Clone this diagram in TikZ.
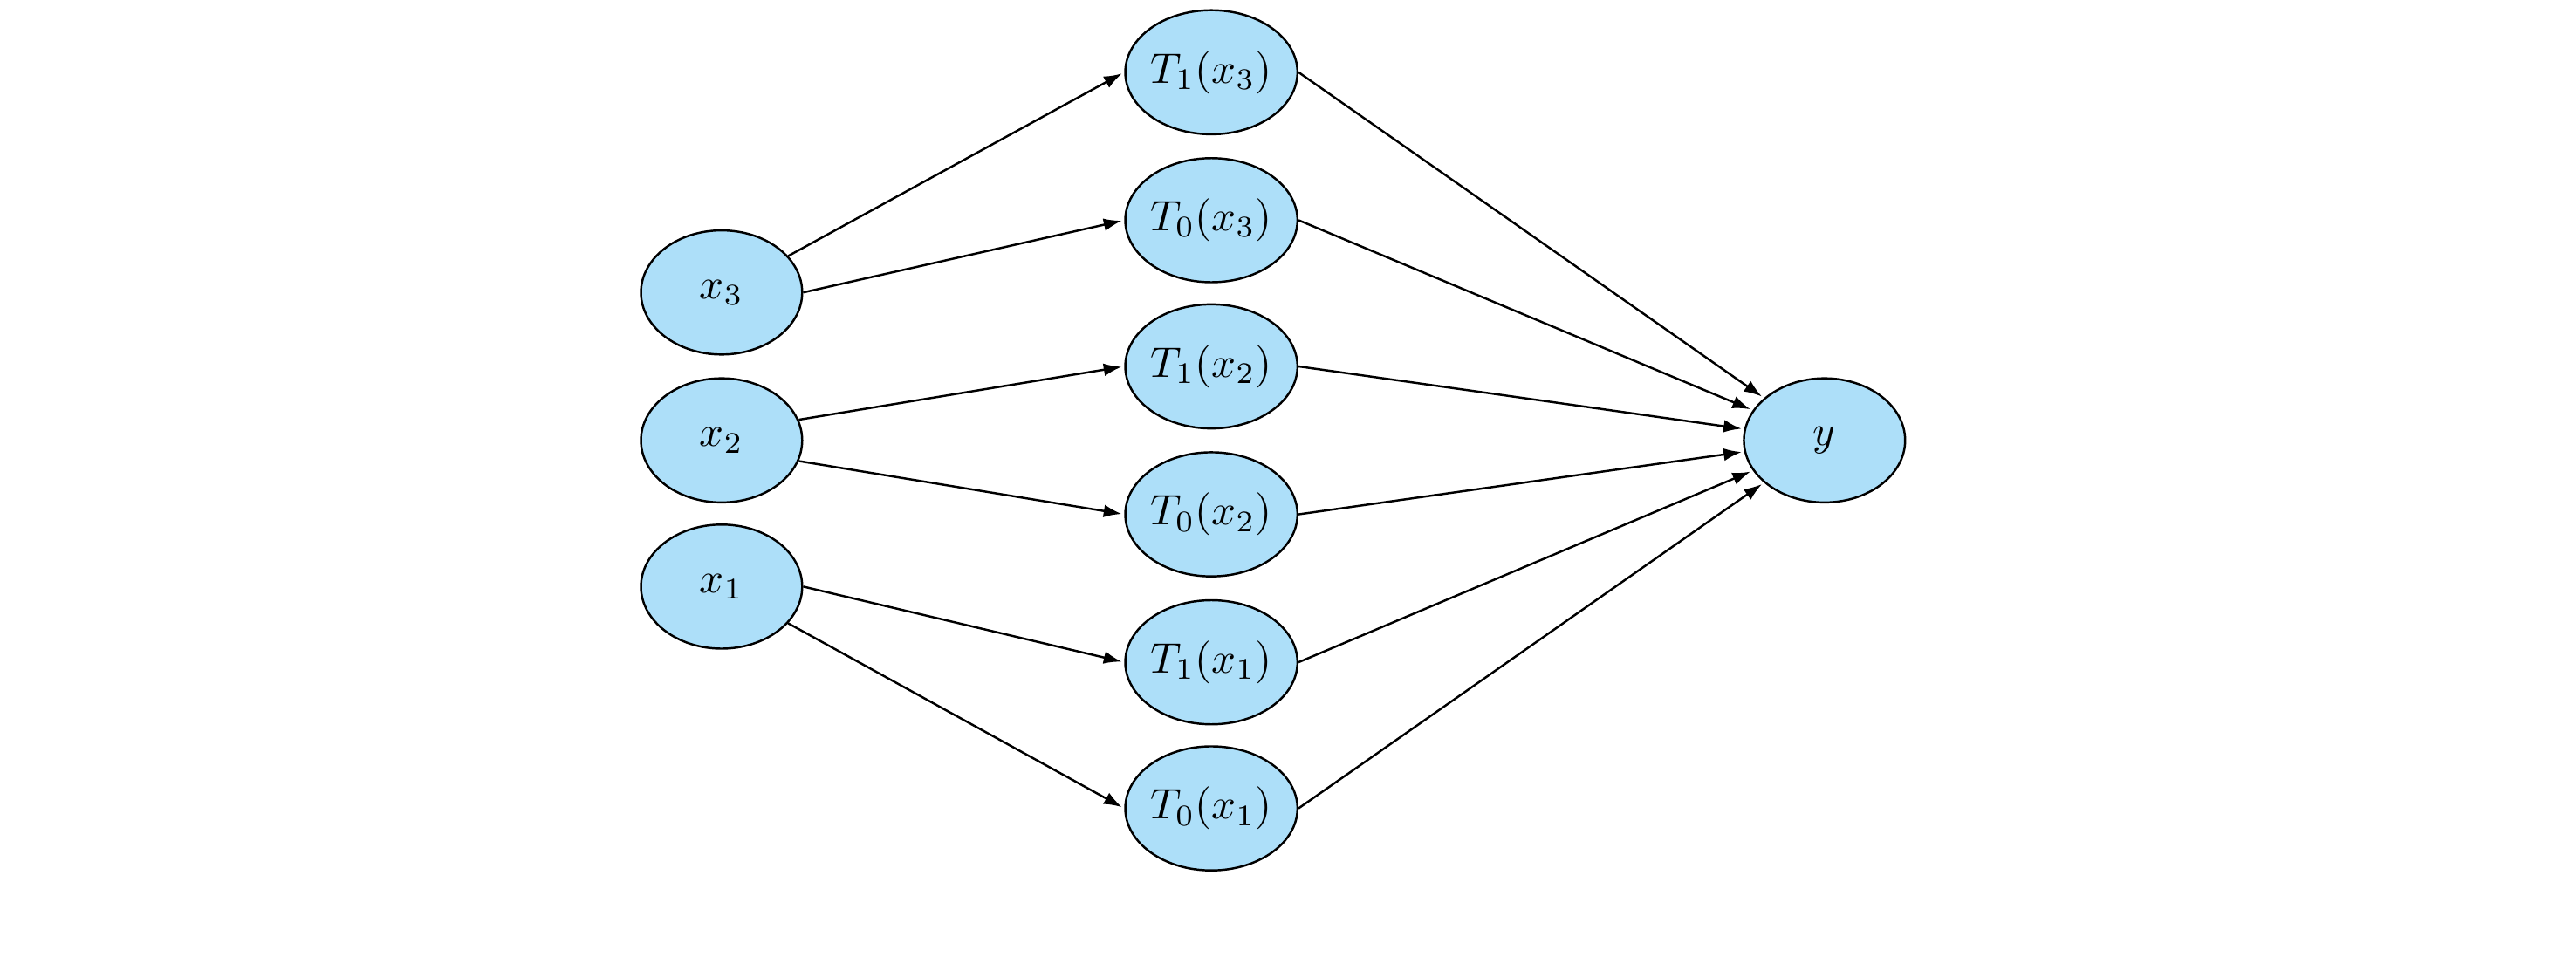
\documentclass[tikz,border=0pt]{standalone}
\usetikzlibrary{shapes.geometric,arrows.meta}
\definecolor{nodefill}{RGB}{173,223,249}
\begin{document}
\begin{tikzpicture}[
  vnode/.style={ellipse,draw=black,fill=nodefill,line width=0.5pt,minimum width=1.325cm,minimum height=1.02cm,inner sep=0pt},
  tnode/.style={vnode,minimum width=1.415cm},
  conn/.style={-{Latex[length=4.2pt,width=3pt]},line width=0.5pt,shorten >=0.6pt}
]
\useasboundingbox (0,0) rectangle (21.17,-7.975);
\node[vnode] (x3) at (5.930,-2.404) {$x_3$};
\node[vnode] (x2) at (5.930,-3.620) {$x_2$};
\node[vnode] (x1) at (5.930,-4.822) {$x_1$};
\node[tnode] (t13) at (9.955,-0.594) {$T_1(x_3)$};
\node[tnode] (t03) at (9.955,-1.810) {$T_0(x_3)$};
\node[tnode] (t12) at (9.955,-3.012) {$T_1(x_2)$};
\node[tnode] (t02) at (9.955,-4.228) {$T_0(x_2)$};
\node[tnode] (t11) at (9.955,-5.444) {$T_1(x_1)$};
\node[tnode] (t01) at (9.955,-6.645) {$T_0(x_1)$};
\node[vnode] (y) at (14.994,-3.620) {$y$};
\draw[conn] (x3) -- (t13.west);
\draw[conn] (x3.east) -- (t03.west);
\draw[conn] (x2.15) -- (t12.west);
\draw[conn] (x2.-15) -- (t02.west);
\draw[conn] (x1.east) -- (t11.west);
\draw[conn] (x1) -- (t01.west);
\foreach \n in {t13,t03,t12,t02,t11,t01} \draw[conn] (\n.east) -- (y);
\end{tikzpicture}
\end{document}
